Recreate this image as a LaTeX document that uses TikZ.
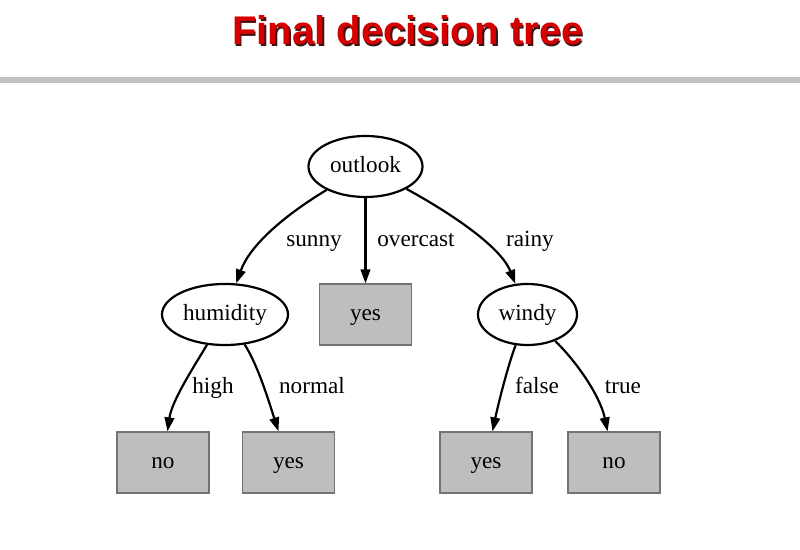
\documentclass[tikz,border=0pt]{standalone}
\usepackage{fontspec}
\setmainfont{Liberation Serif}
\newfontfamily\titlefont{Liberation Sans}
\usetikzlibrary{arrows.meta, shapes.geometric}
\definecolor{titleRed}{RGB}{214,0,0}
\definecolor{titleShade}{RGB}{60,20,20}
\definecolor{leafGray}{RGB}{190,190,190}
\definecolor{ruleGray}{RGB}{192,192,192}
\tikzset{>={Triangle[length=7pt,width=4.8pt]}}

\begin{document}
\begin{tikzpicture}[
    x = 0.5pt,
    y = -0.5pt,
    ->,
    line width = 1.1pt,
    font = \fontsize{11.6}{13}\selectfont,
    every node/.style = {text height = 1.8ex, text depth = 0.4ex},
    attr/.style = {ellipse, draw, inner sep = 0pt, minimum height = 30.5pt},
    leaf/.style = {rectangle, draw = black!55, line width = 0.6pt, fill = leafGray,
                   minimum width = 46pt, minimum height = 30.5pt},
    branch/.style = {inner sep = 1pt},
    heading/.style = {font = \titlefont\bfseries\fontsize{20}{24}\selectfont, anchor = base,
                      text height = {}, text depth = {}}
  ]
    \useasboundingbox (0, 0) rectangle (800, 550);
    % title with its shadow
    \node[heading, text = titleShade] (title_shadow) at (409.5, 46.5) {Final decision tree};
    \node[heading, text = titleRed] (title) at (408, 45) {Final decision tree};
    \draw[-, line width = 3pt, draw = ruleGray] (0, 80) -- (800, 80);
    % tree
    \node[attr, minimum width = 57pt] (outlook) at (365.5, 166.5) {outlook};
    \node[attr, minimum width = 63pt] (humidity) at (225, 314.5) {humidity};
    \node[leaf] (overcast_yes) at (365.5, 314.5) {yes};
    \node[attr, minimum width = 49.5pt] (windy) at (527.5, 314.5) {windy};
    \node[leaf] (high_no) at (163, 462.5) {no};
    \node[leaf] (normal_yes) at (288.5, 462.5) {yes};
    \node[leaf] (false_yes) at (486, 462.5) {yes};
    \node[leaf] (true_no) at (614, 462.5) {no};
    \node[branch] (sunny) at (314, 240) {sunny};
    \node[branch] (overcast) at (416, 240) {overcast};
    \node[branch] (rainy) at (530, 240) {rainy};
    \node[branch] (high) at (213, 387) {high};
    \node[branch] (normal) at (312, 387) {normal};
    \node[branch] (false) at (537, 387) {false};
    \node[branch] (true) at (623, 387) {true};
    \draw (outlook) .. controls (285, 215) and (250, 245) .. (humidity);
    \draw (outlook) -- (overcast_yes);
    \draw (outlook) .. controls (445, 210) and (500, 245) .. (windy);
    \draw (humidity) .. controls (195, 365) and (172, 400) .. (high_no);
    \draw (humidity) .. controls (258, 365) and (270, 405) .. (normal_yes);
    \draw (windy) .. controls (508, 365) and (498, 405) .. (false_yes);
    \draw (windy) .. controls (575, 360) and (600, 395) .. (true_no);
  \end{tikzpicture}
\end{document}
